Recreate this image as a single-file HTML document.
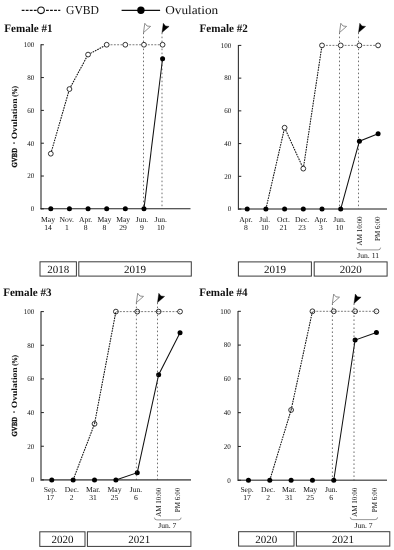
<!DOCTYPE html>
<html lang="en"><head><meta charset="utf-8"><title>GVBD and Ovulation</title>
<style>html,body{margin:0;padding:0;background:#fff}body{width:394px;height:550px;overflow:hidden}svg{display:block}text{font-family:"Liberation Serif","Noto Serif CJK SC",serif;fill:#111;text-rendering:geometricPrecision}</style>
</head><body>
<svg width="394" height="550" viewBox="0 0 394 550">
<rect width="394" height="550" fill="#fff"/>
<line x1="21.7" y1="10.3" x2="60.3" y2="10.3" stroke="#111" stroke-width="1.3" stroke-dasharray="2.8 1.25"/>
<circle cx="41" cy="10.3" r="3.3" fill="#fff" stroke="#111" stroke-width="1.05"/>
<text x="66" y="14.3" font-size="12.2" textLength="33" lengthAdjust="spacingAndGlyphs">GVBD</text>
<line x1="121.6" y1="10.3" x2="160.1" y2="10.3" stroke="#111" stroke-width="1.2"/>
<circle cx="140.9" cy="10.3" r="3.7" fill="#000"/>
<text x="165.2" y="14.3" font-size="12.2" textLength="53" lengthAdjust="spacingAndGlyphs">Ovulation</text>
<text x="4.3" y="32.3" font-size="11.4" font-weight="bold" textLength="48.3" lengthAdjust="spacingAndGlyphs">Female #1</text>
<line x1="143.5" y1="32.60" x2="143.5" y2="208.85" stroke="#333" stroke-width="0.7" stroke-dasharray="1.6 2.4"/>
<line x1="162.0" y1="32.60" x2="162.0" y2="208.85" stroke="#333" stroke-width="0.7" stroke-dasharray="1.6 2.4"/>
<line x1="50.80" y1="153.71" x2="69.43" y2="89.06" stroke="#111" stroke-width="1.05" stroke-dasharray="1.7 0.9"/>
<line x1="69.43" y1="89.06" x2="88.06" y2="54.60" stroke="#111" stroke-width="1.05" stroke-dasharray="1.7 0.9"/>
<line x1="88.06" y1="54.60" x2="106.69" y2="44.75" stroke="#111" stroke-width="1.05" stroke-dasharray="1.7 0.9"/>
<line x1="106.69" y1="44.75" x2="125.32" y2="44.75" stroke="#333" stroke-width="0.65" stroke-dasharray="1.9 1.4" stroke-dashoffset="-0.6"/>
<line x1="125.32" y1="44.75" x2="143.95" y2="44.75" stroke="#333" stroke-width="0.65" stroke-dasharray="1.9 1.4" stroke-dashoffset="-0.6"/>
<line x1="143.95" y1="44.75" x2="162.58" y2="44.75" stroke="#333" stroke-width="0.65" stroke-dasharray="1.9 1.4" stroke-dashoffset="-0.6"/>
<path d="M41.0 44.35V209.35" fill="none" stroke="#6c6c6c" stroke-width="1.6"/>
<line x1="40.4" y1="208.7" x2="190.5" y2="208.7" stroke="#222" stroke-width="1.1"/>
<line x1="41.0" y1="208.85" x2="43.90" y2="208.85" stroke="#222" stroke-width="1"/>
<text transform="translate(34.30 211.15) scale(0.98 1)" font-size="7.2" text-anchor="end">0</text>
<line x1="41.0" y1="176.03" x2="43.90" y2="176.03" stroke="#222" stroke-width="1"/>
<text transform="translate(34.30 178.33) scale(0.98 1)" font-size="7.2" text-anchor="end">20</text>
<line x1="41.0" y1="143.21" x2="43.90" y2="143.21" stroke="#222" stroke-width="1"/>
<text transform="translate(34.30 145.51) scale(0.98 1)" font-size="7.2" text-anchor="end">40</text>
<line x1="41.0" y1="110.39" x2="43.90" y2="110.39" stroke="#222" stroke-width="1"/>
<text transform="translate(34.30 112.69) scale(0.98 1)" font-size="7.2" text-anchor="end">60</text>
<line x1="41.0" y1="77.57" x2="43.90" y2="77.57" stroke="#222" stroke-width="1"/>
<text transform="translate(34.30 79.87) scale(0.98 1)" font-size="7.2" text-anchor="end">80</text>
<line x1="41.0" y1="44.75" x2="43.90" y2="44.75" stroke="#222" stroke-width="1"/>
<text transform="translate(34.30 47.05) scale(0.98 1)" font-size="7.2" text-anchor="end">100</text>
<polyline points="143.95,208.85 162.58,58.70" fill="none" stroke="#111" stroke-width="1.05"/>
<circle cx="50.80" cy="153.71" r="2.4" fill="#fff" stroke="#111" stroke-width="0.85"/>
<circle cx="69.43" cy="89.06" r="2.4" fill="#fff" stroke="#111" stroke-width="0.85"/>
<circle cx="88.06" cy="54.60" r="2.4" fill="#fff" stroke="#111" stroke-width="0.85"/>
<circle cx="106.69" cy="44.75" r="2.4" fill="#fff" stroke="#111" stroke-width="0.85"/>
<circle cx="125.32" cy="44.75" r="2.4" fill="#fff" stroke="#111" stroke-width="0.85"/>
<circle cx="143.95" cy="44.75" r="2.4" fill="#fff" stroke="#111" stroke-width="0.85"/>
<circle cx="162.58" cy="44.75" r="2.4" fill="#fff" stroke="#111" stroke-width="0.85"/>
<circle cx="50.80" cy="208.85" r="2.5" fill="#000"/>
<circle cx="69.43" cy="208.85" r="2.5" fill="#000"/>
<circle cx="88.06" cy="208.85" r="2.5" fill="#000"/>
<circle cx="106.69" cy="208.85" r="2.5" fill="#000"/>
<circle cx="125.32" cy="208.85" r="2.5" fill="#000"/>
<circle cx="143.95" cy="208.85" r="2.5" fill="#000"/>
<circle cx="162.58" cy="58.70" r="2.5" fill="#000"/>
<path d="M143.50 32.60L144.80 23.30L147.00 26.00L150.60 26.40Z" fill="#fff" stroke="#6a6a6a" stroke-width="0.75" stroke-linejoin="miter"/>
<path d="M162.00 32.60L163.30 23.30L165.50 26.00L169.10 26.40Z" fill="#000" stroke="#000" stroke-width="0.4"/>
<text x="48.00" y="221.85" font-size="7.6" text-anchor="middle">May</text>
<text x="48.00" y="230.05" font-size="7.6" text-anchor="middle">14</text>
<text x="66.78" y="221.85" font-size="7.6" text-anchor="middle">Nov.</text>
<text x="66.78" y="230.05" font-size="7.6" text-anchor="middle">1</text>
<text x="85.56" y="221.85" font-size="7.6" text-anchor="middle">Apr.</text>
<text x="85.56" y="230.05" font-size="7.6" text-anchor="middle">8</text>
<text x="104.34" y="221.85" font-size="7.6" text-anchor="middle">May</text>
<text x="104.34" y="230.05" font-size="7.6" text-anchor="middle">8</text>
<text x="123.12" y="221.85" font-size="7.6" text-anchor="middle">May</text>
<text x="123.12" y="230.05" font-size="7.6" text-anchor="middle">29</text>
<text x="141.90" y="221.85" font-size="7.6" text-anchor="middle">Jun.</text>
<text x="141.90" y="230.05" font-size="7.6" text-anchor="middle">9</text>
<text x="160.68" y="221.85" font-size="7.6" text-anchor="middle">Jun.</text>
<text x="160.68" y="230.05" font-size="7.6" text-anchor="middle">10</text>
<rect x="40.0" y="261.8" width="36.40" height="14.30" fill="#fff" stroke="#3a3a3a" stroke-width="1.0"/>
<text x="58.20" y="272.80" font-size="11" text-anchor="middle">2018</text>
<rect x="78.8" y="261.8" width="112.50" height="14.30" fill="#fff" stroke="#3a3a3a" stroke-width="1.0"/>
<text x="135.05" y="272.80" font-size="11" text-anchor="middle">2019</text>
<text transform="translate(17.4 167.55) rotate(-90)" font-size="7.7" font-weight="bold" textLength="19.6" lengthAdjust="spacingAndGlyphs" stroke="#111" stroke-width="0.3">GVBD</text>
<text transform="translate(17.4 143.15) rotate(-90)" font-size="7.8" font-weight="bold" text-anchor="middle">・</text>
<text transform="translate(17.4 139.35) rotate(-90)" font-size="8.1" font-weight="bold" textLength="41.0" lengthAdjust="spacingAndGlyphs">Ovulation</text>
<text transform="translate(17.4 96.85) rotate(-90)" font-size="7.4" font-weight="bold" textLength="10.8" lengthAdjust="spacingAndGlyphs" stroke="#111" stroke-width="0.2">(%)</text>
<text x="199.5" y="32.3" font-size="11.4" font-weight="bold" textLength="48.3" lengthAdjust="spacingAndGlyphs">Female #2</text>
<line x1="339.5" y1="32.60" x2="339.5" y2="209.05" stroke="#333" stroke-width="0.7" stroke-dasharray="1.6 2.4"/>
<line x1="358.5" y1="32.60" x2="358.5" y2="209.05" stroke="#333" stroke-width="0.7" stroke-dasharray="1.6 2.4"/>
<line x1="265.90" y1="209.05" x2="284.60" y2="127.72" stroke="#111" stroke-width="1.05" stroke-dasharray="1.7 0.9"/>
<line x1="284.60" y1="127.72" x2="303.30" y2="168.63" stroke="#111" stroke-width="1.05" stroke-dasharray="1.7 0.9"/>
<line x1="303.30" y1="168.63" x2="322.00" y2="45.40" stroke="#111" stroke-width="1.05" stroke-dasharray="1.7 0.9"/>
<line x1="322.00" y1="45.40" x2="340.70" y2="45.40" stroke="#333" stroke-width="0.65" stroke-dasharray="1.9 1.4" stroke-dashoffset="-0.6"/>
<line x1="340.70" y1="45.40" x2="359.40" y2="45.40" stroke="#333" stroke-width="0.65" stroke-dasharray="1.9 1.4" stroke-dashoffset="-0.6"/>
<line x1="359.40" y1="45.40" x2="378.10" y2="45.40" stroke="#333" stroke-width="0.65" stroke-dasharray="1.9 1.4" stroke-dashoffset="-0.6"/>
<line x1="238.4" y1="209.05" x2="387" y2="209.05" stroke="#666" stroke-width="1.5"/>
<path d="M238.4 45.0V209.80" fill="none" stroke="#333" stroke-width="1.1"/>
<line x1="238.4" y1="209.05" x2="241.30" y2="209.05" stroke="#222" stroke-width="1"/>
<text transform="translate(231.20 211.35) scale(0.98 1)" font-size="7.2" text-anchor="end">0</text>
<line x1="238.4" y1="176.32" x2="241.30" y2="176.32" stroke="#222" stroke-width="1"/>
<text transform="translate(231.20 178.62) scale(0.98 1)" font-size="7.2" text-anchor="end">20</text>
<line x1="238.4" y1="143.59" x2="241.30" y2="143.59" stroke="#222" stroke-width="1"/>
<text transform="translate(231.20 145.89) scale(0.98 1)" font-size="7.2" text-anchor="end">40</text>
<line x1="238.4" y1="110.86" x2="241.30" y2="110.86" stroke="#222" stroke-width="1"/>
<text transform="translate(231.20 113.16) scale(0.98 1)" font-size="7.2" text-anchor="end">60</text>
<line x1="238.4" y1="78.13" x2="241.30" y2="78.13" stroke="#222" stroke-width="1"/>
<text transform="translate(231.20 80.43) scale(0.98 1)" font-size="7.2" text-anchor="end">80</text>
<line x1="238.4" y1="45.40" x2="241.30" y2="45.40" stroke="#222" stroke-width="1"/>
<text transform="translate(231.20 47.70) scale(0.98 1)" font-size="7.2" text-anchor="end">100</text>
<polyline points="340.70,209.05 359.40,141.14 378.10,133.77" fill="none" stroke="#111" stroke-width="1.05"/>
<circle cx="284.60" cy="127.72" r="2.4" fill="#fff" stroke="#111" stroke-width="0.85"/>
<circle cx="303.30" cy="168.63" r="2.4" fill="#fff" stroke="#111" stroke-width="0.85"/>
<circle cx="322.00" cy="45.40" r="2.4" fill="#fff" stroke="#111" stroke-width="0.85"/>
<circle cx="340.70" cy="45.40" r="2.4" fill="#fff" stroke="#111" stroke-width="0.85"/>
<circle cx="359.40" cy="45.40" r="2.4" fill="#fff" stroke="#111" stroke-width="0.85"/>
<circle cx="378.10" cy="45.40" r="2.4" fill="#fff" stroke="#111" stroke-width="0.85"/>
<circle cx="247.20" cy="209.05" r="2.5" fill="#000"/>
<circle cx="265.90" cy="209.05" r="2.5" fill="#000"/>
<circle cx="284.60" cy="209.05" r="2.5" fill="#000"/>
<circle cx="303.30" cy="209.05" r="2.5" fill="#000"/>
<circle cx="322.00" cy="209.05" r="2.5" fill="#000"/>
<circle cx="340.70" cy="209.05" r="2.5" fill="#000"/>
<circle cx="359.40" cy="141.14" r="2.5" fill="#000"/>
<circle cx="378.10" cy="133.77" r="2.5" fill="#000"/>
<path d="M339.50 32.60L340.80 23.30L343.00 26.00L346.60 26.40Z" fill="#fff" stroke="#6a6a6a" stroke-width="0.75" stroke-linejoin="miter"/>
<path d="M358.50 32.60L359.80 23.30L362.00 26.00L365.60 26.40Z" fill="#000" stroke="#000" stroke-width="0.4"/>
<text x="246.00" y="221.80" font-size="7.6" text-anchor="middle">Apr.</text>
<text x="246.00" y="229.90" font-size="7.6" text-anchor="middle">8</text>
<text x="264.70" y="221.80" font-size="7.6" text-anchor="middle">Jul.</text>
<text x="264.70" y="229.90" font-size="7.6" text-anchor="middle">10</text>
<text x="283.40" y="221.80" font-size="7.6" text-anchor="middle">Oct.</text>
<text x="283.40" y="229.90" font-size="7.6" text-anchor="middle">21</text>
<text x="302.10" y="221.80" font-size="7.6" text-anchor="middle">Dec.</text>
<text x="302.10" y="229.90" font-size="7.6" text-anchor="middle">23</text>
<text x="320.80" y="221.80" font-size="7.6" text-anchor="middle">Apr.</text>
<text x="320.80" y="229.90" font-size="7.6" text-anchor="middle">3</text>
<text x="339.50" y="221.80" font-size="7.6" text-anchor="middle">Jun.</text>
<text x="339.50" y="229.90" font-size="7.6" text-anchor="middle">10</text>
<text transform="translate(361.7 216.4) rotate(-90)" font-size="7.7" text-anchor="end" textLength="29.0" lengthAdjust="spacingAndGlyphs">AM 10:00</text>
<text transform="translate(379.5 216.4) rotate(-90)" font-size="7.7" text-anchor="end" textLength="24.5" lengthAdjust="spacingAndGlyphs">PM 6:00</text>
<path d="M356.5 247.6Q356.5 249.9 359.0 249.9H378.1Q380.6 249.9 380.6 247.6" fill="none" stroke="#444" stroke-width="0.55"/>
<text x="368.15000000000003" y="258.1" font-size="7.6" text-anchor="middle">Jun. 11</text>
<rect x="238.4" y="261.9" width="73.00" height="14.20" fill="#fff" stroke="#3a3a3a" stroke-width="1.0"/>
<text x="274.90" y="272.80" font-size="11" text-anchor="middle">2019</text>
<rect x="314.2" y="261.9" width="72.90" height="14.20" fill="#fff" stroke="#3a3a3a" stroke-width="1.0"/>
<text x="350.65" y="272.80" font-size="11" text-anchor="middle">2020</text>
<text x="3.2" y="296.4" font-size="11.4" font-weight="bold" textLength="48.3" lengthAdjust="spacingAndGlyphs">Female #3</text>
<line x1="73.13" y1="479.90" x2="94.51" y2="423.86" stroke="#111" stroke-width="1.05" stroke-dasharray="1.7 0.9"/>
<line x1="94.51" y1="423.86" x2="115.89" y2="311.60" stroke="#111" stroke-width="1.05" stroke-dasharray="1.7 0.9"/>
<line x1="115.89" y1="311.60" x2="137.27" y2="311.60" stroke="#333" stroke-width="0.65" stroke-dasharray="1.9 1.4" stroke-dashoffset="-0.6"/>
<line x1="137.27" y1="311.60" x2="158.65" y2="311.60" stroke="#333" stroke-width="0.65" stroke-dasharray="1.9 1.4" stroke-dashoffset="-0.6"/>
<line x1="158.65" y1="311.60" x2="180.03" y2="311.60" stroke="#333" stroke-width="0.65" stroke-dasharray="1.9 1.4" stroke-dashoffset="-0.6"/>
<path d="M41.0 311.20000000000005V479.9H191" fill="none" stroke="#6c6c6c" stroke-width="1.6"/>
<line x1="41.0" y1="479.90" x2="43.90" y2="479.90" stroke="#222" stroke-width="1"/>
<text transform="translate(34.30 482.20) scale(0.98 1)" font-size="7.2" text-anchor="end">0</text>
<line x1="41.0" y1="446.24" x2="43.90" y2="446.24" stroke="#222" stroke-width="1"/>
<text transform="translate(34.30 448.54) scale(0.98 1)" font-size="7.2" text-anchor="end">20</text>
<line x1="41.0" y1="412.58" x2="43.90" y2="412.58" stroke="#222" stroke-width="1"/>
<text transform="translate(34.30 414.88) scale(0.98 1)" font-size="7.2" text-anchor="end">40</text>
<line x1="41.0" y1="378.92" x2="43.90" y2="378.92" stroke="#222" stroke-width="1"/>
<text transform="translate(34.30 381.22) scale(0.98 1)" font-size="7.2" text-anchor="end">60</text>
<line x1="41.0" y1="345.26" x2="43.90" y2="345.26" stroke="#222" stroke-width="1"/>
<text transform="translate(34.30 347.56) scale(0.98 1)" font-size="7.2" text-anchor="end">80</text>
<line x1="41.0" y1="311.60" x2="43.90" y2="311.60" stroke="#222" stroke-width="1"/>
<text transform="translate(34.30 313.90) scale(0.98 1)" font-size="7.2" text-anchor="end">100</text>
<polyline points="115.89,479.90 137.27,472.66 158.65,374.71 180.03,332.64" fill="none" stroke="#111" stroke-width="1.05"/>
<circle cx="94.51" cy="423.86" r="2.4" fill="none" stroke="#111" stroke-width="0.85"/>
<circle cx="115.89" cy="311.60" r="2.4" fill="none" stroke="#111" stroke-width="0.85"/>
<circle cx="137.27" cy="311.60" r="2.4" fill="none" stroke="#111" stroke-width="0.85"/>
<circle cx="158.65" cy="311.60" r="2.4" fill="none" stroke="#111" stroke-width="0.85"/>
<circle cx="180.03" cy="311.60" r="2.4" fill="none" stroke="#111" stroke-width="0.85"/>
<circle cx="51.75" cy="479.90" r="2.5" fill="#000"/>
<circle cx="73.13" cy="479.90" r="2.5" fill="#000"/>
<circle cx="94.51" cy="479.90" r="2.5" fill="#000"/>
<circle cx="115.89" cy="479.90" r="2.5" fill="#000"/>
<circle cx="137.27" cy="472.66" r="2.5" fill="#000"/>
<circle cx="158.65" cy="374.71" r="2.5" fill="#000"/>
<circle cx="180.03" cy="332.64" r="2.5" fill="#000"/>
<line x1="136.4" y1="302.60" x2="136.4" y2="479.9" stroke="#333" stroke-width="0.7" stroke-dasharray="1.6 2.4"/>
<line x1="157.5" y1="302.60" x2="157.5" y2="479.9" stroke="#333" stroke-width="0.7" stroke-dasharray="1.6 2.4"/>
<path d="M136.40 302.60L137.70 293.30L139.90 296.00L143.50 296.40Z" fill="#fff" stroke="#6a6a6a" stroke-width="0.75" stroke-linejoin="miter"/>
<path d="M157.50 302.60L158.80 293.30L161.00 296.00L164.60 296.40Z" fill="#000" stroke="#000" stroke-width="0.4"/>
<text x="50.35" y="491.80" font-size="7.6" text-anchor="middle">Sep.</text>
<text x="50.35" y="499.90" font-size="7.6" text-anchor="middle">17</text>
<text x="71.73" y="491.80" font-size="7.6" text-anchor="middle">Dec.</text>
<text x="71.73" y="499.90" font-size="7.6" text-anchor="middle">2</text>
<text x="93.11" y="491.80" font-size="7.6" text-anchor="middle">Mar.</text>
<text x="93.11" y="499.90" font-size="7.6" text-anchor="middle">31</text>
<text x="114.49" y="491.80" font-size="7.6" text-anchor="middle">May</text>
<text x="114.49" y="499.90" font-size="7.6" text-anchor="middle">25</text>
<text x="135.87" y="491.80" font-size="7.6" text-anchor="middle">Jun.</text>
<text x="135.87" y="499.90" font-size="7.6" text-anchor="middle">6</text>
<text transform="translate(160.8 487.7) rotate(-90)" font-size="7.7" text-anchor="end" textLength="29.0" lengthAdjust="spacingAndGlyphs">AM 10:00</text>
<text transform="translate(180.3 487.7) rotate(-90)" font-size="7.7" text-anchor="end" textLength="24.5" lengthAdjust="spacingAndGlyphs">PM 6:00</text>
<path d="M154.4 517.6Q154.4 519.9 156.9 519.9H178.6Q181.1 519.9 181.1 517.6" fill="none" stroke="#444" stroke-width="0.55"/>
<text x="167.35" y="528.1" font-size="7.6" text-anchor="middle">Jun. 7</text>
<rect x="39.8" y="531.8" width="45.20" height="14.60" fill="#fff" stroke="#3a3a3a" stroke-width="1.0"/>
<text x="62.40" y="543.10" font-size="11" text-anchor="middle">2020</text>
<rect x="87.4" y="531.8" width="103.50" height="14.60" fill="#fff" stroke="#3a3a3a" stroke-width="1.0"/>
<text x="139.15" y="543.10" font-size="11" text-anchor="middle">2021</text>
<text transform="translate(17.4 436.50) rotate(-90)" font-size="7.7" font-weight="bold" textLength="19.6" lengthAdjust="spacingAndGlyphs" stroke="#111" stroke-width="0.3">GVBD</text>
<text transform="translate(17.4 412.10) rotate(-90)" font-size="7.8" font-weight="bold" text-anchor="middle">・</text>
<text transform="translate(17.4 408.30) rotate(-90)" font-size="8.1" font-weight="bold" textLength="41.0" lengthAdjust="spacingAndGlyphs">Ovulation</text>
<text transform="translate(17.4 365.80) rotate(-90)" font-size="7.4" font-weight="bold" textLength="10.8" lengthAdjust="spacingAndGlyphs" stroke="#111" stroke-width="0.2">(%)</text>
<text x="199.2" y="296.4" font-size="11.4" font-weight="bold" textLength="48.3" lengthAdjust="spacingAndGlyphs">Female #4</text>
<line x1="269.78" y1="480.25" x2="291.11" y2="409.97" stroke="#111" stroke-width="1.05" stroke-dasharray="1.7 0.9"/>
<line x1="291.11" y1="409.97" x2="312.44" y2="311.30" stroke="#111" stroke-width="1.05" stroke-dasharray="1.7 0.9"/>
<line x1="312.44" y1="311.30" x2="333.77" y2="311.30" stroke="#333" stroke-width="0.65" stroke-dasharray="1.9 1.4" stroke-dashoffset="-0.6"/>
<line x1="333.77" y1="311.30" x2="355.10" y2="311.30" stroke="#333" stroke-width="0.65" stroke-dasharray="1.9 1.4" stroke-dashoffset="-0.6"/>
<line x1="355.10" y1="311.30" x2="376.43" y2="311.30" stroke="#333" stroke-width="0.65" stroke-dasharray="1.9 1.4" stroke-dashoffset="-0.6"/>
<line x1="238.0" y1="480.25" x2="387" y2="480.25" stroke="#666" stroke-width="1.5"/>
<path d="M238.0 310.90000000000003V481.00" fill="none" stroke="#333" stroke-width="1.1"/>
<line x1="238.0" y1="480.25" x2="240.90" y2="480.25" stroke="#222" stroke-width="1"/>
<text transform="translate(230.80 482.55) scale(0.98 1)" font-size="7.2" text-anchor="end">0</text>
<line x1="238.0" y1="446.46" x2="240.90" y2="446.46" stroke="#222" stroke-width="1"/>
<text transform="translate(230.80 448.76) scale(0.98 1)" font-size="7.2" text-anchor="end">20</text>
<line x1="238.0" y1="412.67" x2="240.90" y2="412.67" stroke="#222" stroke-width="1"/>
<text transform="translate(230.80 414.97) scale(0.98 1)" font-size="7.2" text-anchor="end">40</text>
<line x1="238.0" y1="378.88" x2="240.90" y2="378.88" stroke="#222" stroke-width="1"/>
<text transform="translate(230.80 381.18) scale(0.98 1)" font-size="7.2" text-anchor="end">60</text>
<line x1="238.0" y1="345.09" x2="240.90" y2="345.09" stroke="#222" stroke-width="1"/>
<text transform="translate(230.80 347.39) scale(0.98 1)" font-size="7.2" text-anchor="end">80</text>
<line x1="238.0" y1="311.30" x2="240.90" y2="311.30" stroke="#222" stroke-width="1"/>
<text transform="translate(230.80 313.60) scale(0.98 1)" font-size="7.2" text-anchor="end">100</text>
<polyline points="333.77,480.25 355.10,340.02 376.43,332.42" fill="none" stroke="#111" stroke-width="1.05"/>
<circle cx="291.11" cy="409.97" r="2.4" fill="none" stroke="#111" stroke-width="0.85"/>
<circle cx="312.44" cy="311.30" r="2.4" fill="none" stroke="#111" stroke-width="0.85"/>
<circle cx="333.77" cy="311.30" r="2.4" fill="none" stroke="#111" stroke-width="0.85"/>
<circle cx="355.10" cy="311.30" r="2.4" fill="none" stroke="#111" stroke-width="0.85"/>
<circle cx="376.43" cy="311.30" r="2.4" fill="none" stroke="#111" stroke-width="0.85"/>
<circle cx="248.45" cy="480.25" r="2.5" fill="#000"/>
<circle cx="269.78" cy="480.25" r="2.5" fill="#000"/>
<circle cx="291.11" cy="480.25" r="2.5" fill="#000"/>
<circle cx="312.44" cy="480.25" r="2.5" fill="#000"/>
<circle cx="333.77" cy="480.25" r="2.5" fill="#000"/>
<circle cx="355.10" cy="340.02" r="2.5" fill="#000"/>
<circle cx="376.43" cy="332.42" r="2.5" fill="#000"/>
<line x1="332.4" y1="303.40" x2="332.4" y2="480.25" stroke="#333" stroke-width="0.7" stroke-dasharray="1.6 2.4"/>
<line x1="354.0" y1="303.40" x2="354.0" y2="480.25" stroke="#333" stroke-width="0.7" stroke-dasharray="1.6 2.4"/>
<path d="M332.40 303.40L333.70 294.10L335.90 296.80L339.50 297.20Z" fill="#fff" stroke="#6a6a6a" stroke-width="0.75" stroke-linejoin="miter"/>
<path d="M354.00 303.40L355.30 294.10L357.50 296.80L361.10 297.20Z" fill="#000" stroke="#000" stroke-width="0.4"/>
<text x="247.05" y="492.25" font-size="7.6" text-anchor="middle">Sep.</text>
<text x="247.05" y="500.05" font-size="7.6" text-anchor="middle">17</text>
<text x="268.08" y="492.25" font-size="7.6" text-anchor="middle">Dec.</text>
<text x="268.08" y="500.05" font-size="7.6" text-anchor="middle">2</text>
<text x="289.11" y="492.25" font-size="7.6" text-anchor="middle">Mar.</text>
<text x="289.11" y="500.05" font-size="7.6" text-anchor="middle">31</text>
<text x="310.14" y="492.25" font-size="7.6" text-anchor="middle">May</text>
<text x="310.14" y="500.05" font-size="7.6" text-anchor="middle">25</text>
<text x="331.17" y="492.25" font-size="7.6" text-anchor="middle">Jun.</text>
<text x="331.17" y="500.05" font-size="7.6" text-anchor="middle">6</text>
<text transform="translate(356.8 487.7) rotate(-90)" font-size="7.7" text-anchor="end" textLength="29.0" lengthAdjust="spacingAndGlyphs">AM 10:00</text>
<text transform="translate(376.6 487.7) rotate(-90)" font-size="7.7" text-anchor="end" textLength="24.5" lengthAdjust="spacingAndGlyphs">PM 6:00</text>
<path d="M350.3 517.3000000000001Q350.3 519.6 352.8 519.6H375.1Q377.6 519.6 377.6 517.3000000000001" fill="none" stroke="#444" stroke-width="0.55"/>
<text x="363.55000000000007" y="527.8000000000001" font-size="7.6" text-anchor="middle">Jun. 7</text>
<rect x="238.6" y="531.7" width="55.40" height="14.40" fill="#fff" stroke="#3a3a3a" stroke-width="1.0"/>
<text x="266.30" y="542.80" font-size="11" text-anchor="middle">2020</text>
<rect x="296.4" y="531.7" width="93.40" height="14.40" fill="#fff" stroke="#3a3a3a" stroke-width="1.0"/>
<text x="343.10" y="542.80" font-size="11" text-anchor="middle">2021</text>
</svg></body></html>
